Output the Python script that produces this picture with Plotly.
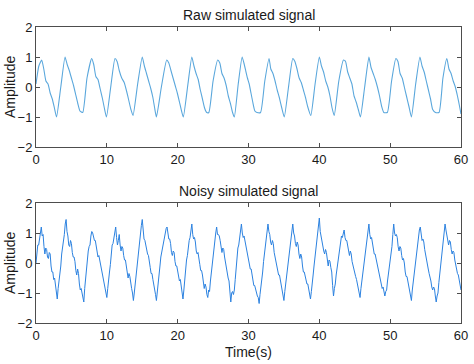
import plotly.graph_objects as go
from plotly.subplots import make_subplots

# Raw simulated signal: (time, amplitude) points
raw_t = [0, 0.4, 0.8, 1.1, 1.4, 1.7, 2.0, 2.3, 2.6, 2.9, 3.5, 4.1,
         4.4, 4.7, 5.0, 5.3, 5.6, 5.9, 6.2, 6.6, 7.2, 7.86,
         8.15, 8.45, 8.75, 9.05, 9.35, 9.65, 9.95, 10.55, 11.15,
         11.45, 11.75, 12.1, 12.45, 12.8, 13.1, 13.4, 13.7, 14.35, 15.0,
         15.3, 15.6, 15.9, 16.2, 16.5, 16.75, 17.0, 17.7, 18.45,
         18.75, 19.05, 19.35, 19.65, 19.95, 20.25, 20.55, 20.8, 21.45, 22.0,
         22.3, 22.6, 22.9, 23.2, 23.5, 23.8, 24.1, 24.4, 25.0, 25.65,
         25.95, 26.25, 26.55, 26.85, 27.15, 27.45, 27.75, 28.0, 28.55, 29.1,
         29.35, 29.6, 29.85, 30.1, 30.35, 30.6, 30.9, 31.2, 31.7, 32.3, 32.9,
         33.15, 33.45, 33.75, 34.05, 34.35, 34.7, 35.05, 35.65, 36.25,
         36.55, 36.85, 37.15, 37.45, 37.75, 38.05, 38.35, 38.8, 39.4, 40.0,
         40.3, 40.6, 40.9, 41.2, 41.5, 41.8, 42.1, 42.75, 43.4,
         43.7, 44.0, 44.3, 44.6, 44.9, 45.2, 45.5, 45.8, 46.4, 47.0,
         47.3, 47.6, 47.9, 48.2, 48.5, 48.8, 49.1, 49.6, 50.2, 50.8,
         51.1, 51.4, 51.7, 52.0, 52.3, 52.65, 53.0, 53.6, 54.2,
         54.5, 54.8, 55.1, 55.4, 55.7, 56.0, 56.4, 56.9, 57.45, 58.0,
         58.3, 58.6, 58.9, 59.2, 59.5, 59.8, 60.0]
raw_y = [0.1, 0.7, 0.9, 0.6, 0.2, 0.1, -0.2, -0.4, -0.7, -1.0, 0.0, 1.0,
         0.75, 0.55, 0.3, 0.05, -0.25, -0.55, -0.8, -0.85, 0.3, 0.95,
         0.75, 0.35, 0.25, -0.05, -0.35, -0.7, -1.0, 0.0, 0.95,
         0.85, 0.55, 0.3, 0.15, -0.15, -0.45, -0.75, -0.95, 0.1, 1.0,
         0.7, 0.45, 0.2, -0.05, -0.35, -0.7, -1.0, 0.0, 0.9,
         0.8, 0.55, 0.3, 0.05, -0.2, -0.5, -0.8, -1.0, 0.1, 1.0,
         0.7, 0.45, 0.25, -0.1, -0.4, -0.7, -0.85, -0.85, 0.2, 0.9,
         0.8, 0.45, 0.3, 0.05, -0.3, -0.55, -0.85, -1.0, 0.1, 1.0,
         0.8, 0.55, 0.3, 0.1, -0.2, -0.5, -0.8, -0.85, -0.85, 0.2, 0.95,
         0.6, 0.45, 0.2, -0.1, -0.35, -0.7, -1.0, 0.0, 0.95,
         0.85, 0.6, 0.3, 0.15, -0.1, -0.35, -0.65, -0.95, 0.1, 1.0,
         0.7, 0.5, 0.2, 0.0, -0.3, -0.7, -0.95, 0.2, 0.9,
         0.85, 0.5, 0.3, 0.1, -0.3, -0.5, -0.75, -1.0, 0.0, 1.0,
         0.65, 0.45, 0.25, 0.0, -0.3, -0.65, -0.85, -0.85, 0.2, 0.95,
         0.85, 0.45, 0.3, 0.0, -0.3, -0.65, -1.0, 0.1, 1.0,
         0.7, 0.5, 0.2, -0.1, -0.4, -0.75, -0.85, -0.85, 0.3, 0.95,
         0.6, 0.45, 0.2, 0.0, -0.3, -0.65, -0.9]

# Noisy simulated signal, sampled every 0.125 s (one row per second)
noisy_step = 0.125
noisy_y = [
    0.0, 0.45, 0.6, 0.6, 0.85, 1.15, 1.2, 0.9,
    0.95, 0.55, 0.3, 0.5, 0.45, 0.2, 0.15, 0.35,
    0.3, -0.1, -0.3, -0.3, -0.55, -0.5, -0.75, -1.05,
    -1.2, -0.85, -0.6, -0.45, -0.1, 0.3, 0.5, 0.6,
    0.95, 1.3, 1.45, 1.05, 0.9, 0.6, 0.55, 0.75,
    0.65, 0.35, 0.2, 0.2, 0.05, -0.25, -0.4, -0.2,
    -0.35, -0.7, -0.9, -0.85, -1.05, -1.2, -1.3, -0.85,
    -0.5, -0.1, 0.1, 0.4, 0.55, 0.6, 0.9, 1.05,
    1.0, 0.8, 0.75, 0.75, 0.55, 0.3, 0.2, 0.25,
    0.1, -0.15, -0.3, -0.35, -0.55, -0.75, -0.85, -1.05,
    -1.15, -0.85, -0.65, -0.3, -0.05, 0.4, 0.6, 0.65,
    0.85, 1.1, 1.2, 0.85, 0.6, 0.75, 0.95, 0.6,
    0.4, 0.55, 0.5, 0.25, 0.1, 0.1, -0.05, -0.3,
    -0.5, -0.35, -0.45, -0.75, -0.85, -1.0, -1.25, -1.0,
    -0.7, -0.35, -0.1, 0.25, 0.45, 0.6, 0.95, 1.25,
    1.45, 1.05, 0.8, 0.75, 0.55, 0.35, 0.3, 0.25,
    0.1, -0.15, -0.35, -0.35, -0.55, -0.7, -0.8, -1.05,
    -1.25, -0.9, -0.65, -0.35, -0.1, 0.2, 0.35, 0.6,
    0.75, 0.9, 0.95, 1.15, 1.2, 0.9, 0.8, 0.8,
    0.65, 0.35, 0.25, 0.4, 0.35, 0.05, -0.1, -0.1,
    -0.3, -0.5, -0.6, -0.55, -0.75, -1.0, -1.2, -0.9,
    -0.55, -0.15, 0.1, 0.25, 0.55, 0.75, 0.85, 1.15,
    1.3, 0.95, 0.8, 0.85, 0.7, 0.4, 0.3, 0.35,
    0.2, -0.05, -0.25, -0.25, -0.4, -0.7, -0.85, -0.7,
    -0.8, -1.05, -1.15, -0.9, -0.95, -0.6, -0.3, 0.05,
    0.3, 0.55, 0.7, 1.0, 1.2, 0.95, 0.95, 0.9,
    0.75, 0.5, 0.35, 0.5, 0.45, 0.2, 0.0, -0.1,
    -0.3, -0.5, -0.6, -0.95, -1.3, -1.0, -0.95, -1.05,
    -0.9, -0.55, -0.2, 0.2, 0.5, 0.6, 0.85, 1.15,
    1.3, 1.0, 0.85, 0.9, 0.75, 0.5, 0.35, 0.3,
    0.15, -0.05, -0.2, -0.2, -0.35, -0.6, -0.75, -0.75,
    -0.9, -1.05, -1.1, -1.15, -1.35, -1.05, -0.85, -0.6,
    -0.3, 0.05, 0.3, 0.6, 0.8, 1.05, 1.3, 1.05,
    0.95, 0.7, 0.6, 0.75, 0.65, 0.35, 0.2, 0.15,
    0.0, -0.25, -0.4, -0.4, -0.55, -0.8, -0.9, -1.1,
    -1.25, -0.95, -0.7, -0.35, -0.1, 0.25, 0.45, 0.7,
    0.85, 1.15, 1.3, 1.0, 0.9, 0.65, 0.55, 0.7,
    0.6, 0.3, 0.15, 0.3, 0.2, -0.1, -0.3, -0.3,
    -0.45, -0.65, -0.7, -0.7, -0.85, -1.05, -1.2, -0.95,
    -0.75, -0.4, -0.1, 0.2, 0.4, 0.7, 0.9, 1.25,
    1.5, 1.05, 0.85, 0.8, 0.6, 0.4, 0.3, 0.45,
    0.35, 0.05, -0.1, 0.1, 0.05, -0.15, -0.3, -0.75,
    -1.1, -0.85, -0.7, -0.4, -0.2, 0.1, 0.35, 0.5,
    0.7, 0.9, 0.85, 1.0, 1.1, 0.85, 0.75, 0.75,
    0.6, 0.35, 0.25, 0.4, 0.3, 0.05, -0.1, -0.2,
    -0.4, -0.45, -0.55, -0.7, -0.8, -1.0, -1.15, -0.85,
    -0.6, -0.3, -0.05, 0.2, 0.4, 0.6, 0.85, 1.1,
    1.3, 0.95, 0.8, 0.85, 0.7, 0.45, 0.3, 0.3,
    0.15, -0.05, -0.2, -0.3, -0.5, -0.55, -0.75, -0.85,
    -0.8, -1.0, -1.1, -0.95, -0.9, -0.6, -0.4, -0.1,
    0.1, 0.35, 0.55, 0.95, 1.3, 1.0, 0.9, 0.95,
    0.85, 0.55, 0.4, 0.55, 0.5, 0.25, 0.1, 0.15,
    0.0, -0.3, -0.45, -0.45, -0.6, -0.8, -0.9, -1.1,
    -1.25, -0.9, -0.65, -0.35, -0.1, 0.25, 0.5, 0.75,
    0.95, 1.1, 1.2, 0.9, 0.75, 0.8, 0.7, 0.45,
    0.25, 0.15, 0.0, -0.2, -0.35, -0.45, -0.6, -0.8,
    -0.9, -0.8, -0.85, -1.1, -1.3, -1.1, -1.0, -0.65,
    -0.4, -0.05, 0.3, 0.5, 0.75, 1.05, 1.3, 1.1,
    0.95, 0.7, 0.6, 0.75, 0.7, 0.45, 0.3, 0.4,
    0.35, 0.1, -0.1, -0.15, -0.35, -0.4, -0.55, -0.75,
    -0.9,
]
noisy_t = [i * noisy_step for i in range(len(noisy_y))]

x_ticks = [0, 10, 20, 30, 40, 50, 60]
y_ticks = [-2, -1, 0, 1, 2]
titles = ["Raw simulated signal", "Noisy simulated signal"]
y_label = "Amplitude"
x_label = "Time(s)"

FONT = "Liberation Sans, Arial, sans-serif"
AXIS_COLOR = "#4d4d4d"
TEXT_COLOR = "#1a1a1a"

fig = make_subplots(rows=2, cols=1, vertical_spacing=0.0)

fig.add_trace(go.Scatter(x=raw_t, y=raw_y, mode="lines",
                         line=dict(color="#5aa7dc", width=1.1, shape="spline", smoothing=0.5),
                         showlegend=False), row=1, col=1)
fig.add_trace(go.Scatter(x=noisy_t, y=noisy_y, mode="lines",
                         line=dict(color="#2c82e0", width=1.0),
                         showlegend=False), row=2, col=1)

top_dom = [0.5946, 1.0]
bot_dom = [0.0, 0.4054]

axis_common = dict(showline=True, mirror="ticks", linecolor=AXIS_COLOR, linewidth=1,
                   ticks="inside", ticklen=4, tickcolor=AXIS_COLOR, showgrid=False,
                   zeroline=False, automargin=False,
                   tickfont=dict(family=FONT, size=13, color=TEXT_COLOR))

fig.update_xaxes(range=[0, 60], tickvals=x_ticks, **axis_common)
fig.update_yaxes(range=[-2, 2], tickvals=y_ticks, **axis_common)
fig.update_yaxes(domain=top_dom, row=1, col=1)
fig.update_yaxes(domain=bot_dom, row=2, col=1)

# subplot titles
fig.add_annotation(text=titles[0], x=0.5, xref="paper", y=1.0, yref="paper",
                   yanchor="bottom", yshift=2, showarrow=False,
                   font=dict(family=FONT, size=14, color=TEXT_COLOR))
fig.add_annotation(text=titles[1], x=0.5, xref="paper", y=bot_dom[1], yref="paper",
                   yanchor="bottom", yshift=2, showarrow=False,
                   font=dict(family=FONT, size=14, color=TEXT_COLOR))
# y-axis labels
for dom in (top_dom, bot_dom):
    fig.add_annotation(text=y_label, x=-0.0612, xref="paper", y=(dom[0] + dom[1]) / 2,
                       yref="paper", textangle=-90, showarrow=False,
                       xanchor="center", yanchor="middle",
                       font=dict(family=FONT, size=14, color=TEXT_COLOR))
# x-axis label
fig.add_annotation(text=x_label, x=0.5, xref="paper", y=-0.098, yref="paper",
                   showarrow=False, xanchor="center", yanchor="middle",
                   font=dict(family=FONT, size=14, color=TEXT_COLOR))

fig.update_layout(width=474, height=364, margin=dict(l=36, r=13, t=27, b=41),
                  plot_bgcolor="white", paper_bgcolor="white",
                  font=dict(family=FONT))

fig.write_html("out.html", config={"displayModeBar": False},
               post_script="document.body.style.margin='0';document.body.style.overflow='hidden';")
